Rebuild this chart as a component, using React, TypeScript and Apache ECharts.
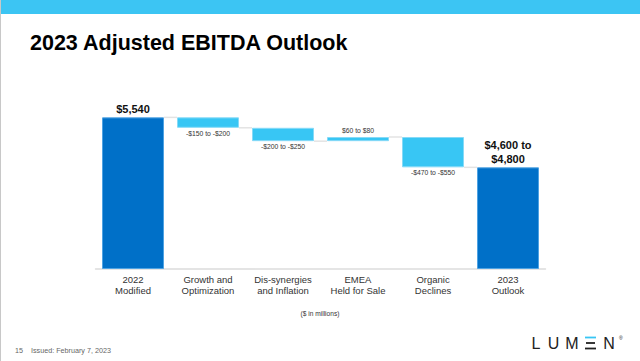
import React, { useEffect, useRef } from 'react';
import * as echarts from 'echarts';

const categories = [
  '2022\nModified',
  'Growth and\nOptimization',
  'Dis-synergies\nand Inflation',
  'EMEA\nHeld for Sale',
  'Organic\nDeclines',
  '2023\nOutlook',
];
const startValue = 5540;
const changeLow = [-150, -200, 60, -470];
const changeHigh = [-200, -250, 80, -550];
const outlookLow = 4600;
const outlookHigh = 4800;
const valueLabels = [
  '$5,540',
  '-$150 to -$200',
  '-$200 to -$250',
  '$60 to $80',
  '-$470 to -$550',
  '$4,600 to\n$4,800',
];

const DARK = '#0070c8';
const LIGHT = '#38c6f4';
const FONT = "'Liberation Sans', Arial, sans-serif";

export default function App() {
  const ref = useRef<HTMLDivElement>(null);
  useEffect(() => {
    const chart = echarts.init(ref.current!, null, { renderer: 'svg' });

    const bases: number[] = [0];
    const heights: number[] = [startValue];
    const levels: number[] = [startValue];
    let running = startValue;
    changeLow.forEach((lo, i) => {
      const mid = (lo + changeHigh[i]) / 2;
      const next = running + mid;
      bases.push(Math.min(running, next));
      heights.push(Math.abs(mid));
      running = next;
      levels.push(running);
    });
    const outlookMid = (outlookLow + outlookHigh) / 2;
    bases.push(0);
    heights.push(outlookMid);

    const bigLabel = {
      show: true,
      position: 'top',
      distance: 2,
      fontSize: 11,
      fontWeight: 'bold',
      color: '#111',
      lineHeight: 13.5,
      fontFamily: FONT,
    };
    const smallLabel = (pos: string, dist: number) => ({
      show: true,
      position: pos,
      distance: dist,
      fontSize: 6.8,
      color: '#333',
      fontFamily: FONT,
    });

    const valueData = heights.map((h, i) => {
      const isTotal = i === 0 || i === heights.length - 1;
      const mid = i > 0 && i < heights.length - 1 ? (changeLow[i - 1] + changeHigh[i - 1]) / 2 : 0;
      return {
        value: h,
        itemStyle: {
          color: isTotal ? DARK : LIGHT,
          borderColor: isTotal ? '#4fa3e3' : '#86daf7',
          borderWidth: 1,
        },
        label: {
          ...(isTotal ? bigLabel : smallLabel(mid < 0 ? 'bottom' : 'top', mid < 0 ? 2 : 3.5)),
          formatter: valueLabels[i],
        },
      };
    });

    const connectorData = levels.map((lv, i) => [i, lv]);

    const option: any = {
      animation: false,
      grid: { left: 95.5, right: 94.5, top: 90, bottom: 92.5 },
      xAxis: {
        type: 'category',
        data: categories,
        axisLine: { lineStyle: { color: '#dcdcdc', width: 1.5 } },
        axisTick: { show: false },
        axisLabel: {
          fontSize: 9.5,
          color: '#333',
          lineHeight: 11,
          margin: 5,
          fontFamily: FONT,
          interval: 0,
        },
      },
      yAxis: { type: 'value', min: 3000, max: 6000, show: false },
      series: [
        {
          type: 'bar',
          stack: 'w',
          barWidth: 62,
          clip: true,
          itemStyle: { color: 'transparent' },
          data: bases,
          silent: true,
        },
        {
          type: 'bar',
          stack: 'w',
          barWidth: 62,
          clip: true,
          data: valueData,
        },
        {
          type: 'custom',
          data: connectorData,
          renderItem: (params: any, api: any) => {
            const i = api.value(0);
            const lv = api.value(1);
            const p1 = api.coord([i, lv]);
            const p2 = api.coord([i + 1, lv]);
            return {
              type: 'line',
              shape: { x1: p1[0] + 31, y1: p1[1], x2: p2[0] - 31, y2: p2[1] },
              style: { stroke: '#e3e3e3', lineWidth: 1.5 },
            };
          },
          z: 1,
        },
      ],
      graphic: [
        { type: 'rect', shape: { x: 0, y: 0, width: 640, height: 14 }, style: { fill: '#3cc5f3' } },
        { type: 'line', shape: { x1: 0.5, y1: 0, x2: 0.5, y2: 361 }, style: { stroke: '#c8c8c8', lineWidth: 1 } },
        {
          type: 'text',
          x: 30,
          y: 43,
          style: {
            text: '2023 Adjusted EBITDA Outlook',
            fontSize: 21.5,
            fontWeight: 'bold',
            fontFamily: FONT,
            fill: '#000',
            textVerticalAlign: 'middle',
          },
        },
        {
          type: 'text',
          x: 320,
          y: 313,
          style: {
            text: '($ in millions)',
            fontSize: 6.6,
            fontFamily: FONT,
            fill: '#333',
            textAlign: 'center',
            textVerticalAlign: 'middle',
          },
        },
        {
          type: 'text',
          x: 15,
          y: 350,
          style: { text: '15', fontSize: 7.2, fontFamily: FONT, fill: '#666', textVerticalAlign: 'middle' },
        },
        {
          type: 'text',
          x: 31,
          y: 350,
          style: {
            text: 'Issued: February 7, 2023',
            fontSize: 7.2,
            fontFamily: FONT,
            fill: '#666',
            textVerticalAlign: 'middle',
          },
        },
        ...[
          ['L', 536],
          ['U', 553.5],
          ['M', 572],
          ['N', 609],
        ].map(([t, x]) => ({
          type: 'text',
          x: x as number,
          y: 343,
          style: {
            text: t as string,
            fontSize: 16,
            fontFamily: FONT,
            fill: '#222',
            textAlign: 'center',
            textVerticalAlign: 'middle',
          },
        })),
        { type: 'line', shape: { x1: 585, y1: 337.5, x2: 596, y2: 337.5 }, style: { stroke: '#38c6f4', lineWidth: 1.8 } },
        { type: 'line', shape: { x1: 586, y1: 343, x2: 595, y2: 343 }, style: { stroke: '#222', lineWidth: 1.8 } },
        { type: 'line', shape: { x1: 585, y1: 348.5, x2: 596, y2: 348.5 }, style: { stroke: '#222', lineWidth: 1.8 } },
        {
          type: 'text',
          x: 619,
          y: 338,
          style: { text: '®', fontSize: 5, fontFamily: FONT, fill: '#222', textVerticalAlign: 'middle' },
        },
      ],
    };
    chart.setOption(option);
    return () => chart.dispose();
  }, []);
  return (
    <div
      ref={ref}
      style={{ position: 'absolute', left: 0, top: 0, width: 640, height: 361, background: '#fff' }}
    />
  );
}
